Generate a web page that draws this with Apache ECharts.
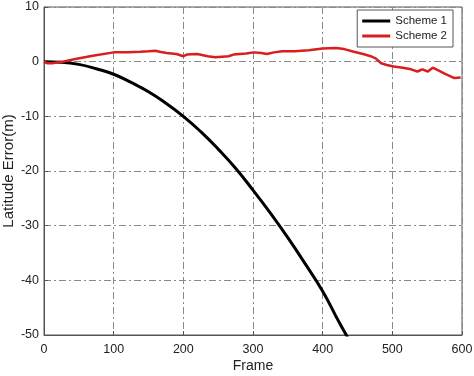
<!DOCTYPE html>
<html>
<head>
<meta charset="utf-8">
<script src="https://cdn.jsdelivr.net/npm/echarts@6/dist/echarts.min.js"></script>
<style>
  html, body { margin: 0; padding: 0; background: #fff; }
  #chart { width: 474px; height: 376px; }
</style>
</head>
<body>
<div id="chart"></div>
<script>
var xTicks = [0, 100, 200, 300, 400, 500, 600];
var yTicks = [-50, -40, -30, -20, -10, 0, 10];

// [frame, error]
var scheme1 = [
  [0, 0], [25, -0.1], [50, -0.5], [75, -1.3], [100, -2.3], [125, -3.8],
  [150, -5.5], [175, -7.6], [200, -10], [225, -12.8], [250, -16],
  [275, -19.5], [300, -23.5], [325, -27.7], [350, -32.2], [375, -37],
  [400, -42], [425, -48], [450, -53.5]
];
var scheme2 = [
  [0, 0], [5, -0.3], [12, -0.3], [20, -0.1], [27, 0], [45, 0.5], [70, 1.1],
  [100, 1.7], [120, 1.7], [138, 1.8], [150, 1.9], [160, 2.0], [166, 1.8],
  [176, 1.6], [190, 1.4], [200, 1.0], [205, 1.3], [220, 1.4], [235, 1.0],
  [246, 0.8], [265, 1.0], [272, 1.3], [290, 1.5], [301, 1.7], [312, 1.6],
  [320, 1.4], [330, 1.7], [342, 1.9], [360, 1.9], [380, 2.1], [400, 2.4],
  [419, 2.5], [431, 2.3], [445, 1.8], [458, 1.4], [469, 1.0], [476, 0.6],
  [484, -0.3], [492, -0.6], [502, -0.9], [515, -1.1], [527, -1.4],
  [536, -1.8], [543, -1.4], [551, -1.8], [558, -1.1], [566, -1.6],
  [575, -2.2], [589, -3.0], [598, -2.9]
];

var gridLine = { color: '#8a8a8a', width: 1, type: [7, 3, 2, 3] };
var labelStyle = { color: '#222', fontSize: 12.5, fontFamily: 'Liberation Sans' };

var chart = echarts.init(document.getElementById('chart'));
chart.setOption({
  animation: false,
  grid: {
    left: 44, right: 12, top: 7, bottom: 41, outerBoundsMode: 'none', containLabel: false,
    show: true, borderColor: '#555', borderWidth: 1
  },
  legend: {
    right: 21, top: 10, orient: 'vertical',
    backgroundColor: '#fff', borderColor: '#555', borderWidth: 1,
    padding: [5, 6, 5, 5], itemGap: 3,
    itemWidth: 28, itemHeight: 3, icon: 'rect',
    textStyle: { color: '#222', fontSize: 11.5, fontFamily: 'Liberation Sans' },
    data: ['Scheme 1', 'Scheme 2']
  },
  xAxis: {
    type: 'value', min: 0, max: 600, interval: 100,
    name: 'Frame', nameLocation: 'middle', nameGap: 24, nameMoveOverlap: false,
    nameTextStyle: { color: '#222', fontSize: 14, fontFamily: 'Liberation Sans' },
    axisLine: { onZero: false, lineStyle: { color: '#555' } },
    axisTick: { inside: true, length: 4, lineStyle: { color: '#555' } },
    axisLabel: Object.assign({ margin: 8, formatter: function (v) { return xTicks.indexOf(v) >= 0 ? v : ''; } }, labelStyle),
    splitLine: { lineStyle: gridLine }
  },
  yAxis: {
    type: 'value', min: -50, max: 10, interval: 10,
    name: 'Latitude Error(m)', nameLocation: 'middle', nameGap: 28, nameMoveOverlap: false,
    nameTextStyle: { color: '#222', fontSize: 15, fontFamily: 'Liberation Sans' },
    axisLine: { show: true, onZero: false, lineStyle: { color: '#555' } },
    axisTick: { show: true, inside: true, length: 4, lineStyle: { color: '#555' } },
    axisLabel: Object.assign({ margin: 5, formatter: function (v) { return yTicks.indexOf(v) >= 0 ? v : ''; } }, labelStyle),
    splitLine: { lineStyle: gridLine }
  },
  series: [
    {
      name: 'Scheme 1', type: 'line', data: scheme1, smooth: true,
      showSymbol: false, clip: true,
      lineStyle: { color: '#000', width: 3 }, itemStyle: { color: '#000' }
    },
    {
      name: 'Scheme 2', type: 'line', data: scheme2,
      showSymbol: false, clip: true,
      lineStyle: { color: '#d81e1e', width: 2.5 }, itemStyle: { color: '#d81e1e' }
    }
  ]
});
</script>
</body>
</html>
